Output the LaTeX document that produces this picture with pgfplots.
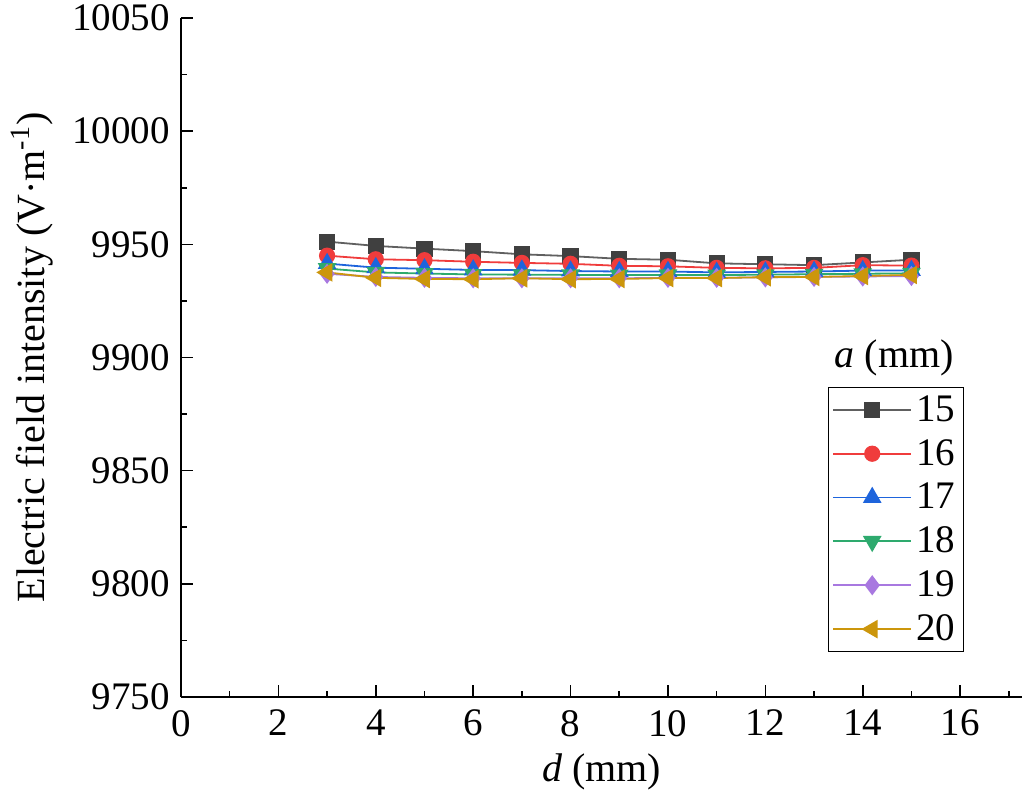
\documentclass[border=0pt]{standalone}
\usepackage{fontspec}
\setmainfont{Liberation Serif}
\usepackage{pgfplots}
\pgfplotsset{compat=1.18}
\definecolor{c15}{HTML}{404040}
\definecolor{c15l}{HTML}{606060}
\definecolor{c16}{HTML}{F03C3C}
\definecolor{c17}{HTML}{1E64DC}
\definecolor{c18}{HTML}{2EAA6E}
\definecolor{c19}{HTML}{A878E0}
\definecolor{c20}{HTML}{CC960C}
\begin{document}
\begin{tikzpicture}
\path[use as bounding box] (-90.5pt,-51pt) rectangle (424pt,348.5pt);
\begin{axis}[
  scale only axis, width=420.5pt, height=339.5pt,
  at={(0,0)}, anchor=south west,
  xmin=0, xmax=17.27, ymin=9750, ymax=10050,
  axis x line*=bottom, axis y line*=left,
  axis line style={line width=1pt, -},
  xtick={0,2,...,16}, minor xtick={1,3,...,17},
  ytick={9750,9800,...,10050}, minor ytick={9775,9825,...,10025},
  scaled y ticks=false, scaled x ticks=false,
  yticklabel={\pgfmathprintnumber[fixed,precision=0,1000 sep={}]{\tick}},
  tick align=inside,
  major tick length=6pt, minor tick length=3pt,
  every tick/.style={black, line width=0.8pt},
  /pgf/number format/assume math mode=true,
  /pgf/number format/1000 sep={},
  tick label style={font=\fontsize{19.5}{22}\selectfont},
  label style={font=\fontsize{20}{22}\selectfont},
  xlabel={\textit{d} (mm)},
  ylabel={Electric field intensity (V·m\textsuperscript{-1})},
  xticklabel style={yshift=-3pt},
  yticklabel style={xshift=-2pt},
  xlabel style={yshift=-2pt},
  ylabel style={yshift=3pt},
  legend style={at={(rel axis cs:0.769,0.4566)}, anchor=north west,
    draw=black, line width=0.6pt, font=\fontsize{19.5}{22}\selectfont,
    row sep=3.5pt, inner sep=2pt,
    /tikz/every even column/.append style={column sep=2pt}},
  legend cell align=left,
  legend image code/.code={\draw[mark repeat=2,mark phase=2,#1,line width=0.9pt] plot coordinates {(0pt,0pt) (19.5pt,0pt) (39pt,0pt)};},
  every axis plot/.append style={line width=0.9pt, mark size=3.6pt},
]
\addplot[color=c15l, draw=c15l, mark=square*, mark options={fill=c15, draw=c15}] coordinates {
(3,9951.2) (4,9949.3) (5,9948.1) (6,9947) (7,9945.6) (8,9944.8) (9,9943.6) (10,9943.2) (11,9941.6) (12,9941.2) (13,9940.8) (14,9942) (15,9943.2)};
\addlegendentry{15}
\addplot[color=c16, draw=c16, mark=*, mark options={fill=c16, draw=c16}] coordinates {
(3,9945) (4,9943.4) (5,9943) (6,9942.3) (7,9941.8) (8,9941.4) (9,9940.5) (10,9940.3) (11,9939.6) (12,9939.4) (13,9939.6) (14,9940.8) (15,9940.6)};
\addlegendentry{16}
\addplot[color=c17, draw=c17, mark=triangle*, mark options={fill=c17, draw=c17, scale=1.25}] coordinates {
(3,9941.5) (4,9939.7) (5,9939.2) (6,9938.7) (7,9938.6) (8,9938.2) (9,9938) (10,9938) (11,9937.6) (12,9937.8) (13,9938) (14,9938.4) (15,9938.5)};
\addlegendentry{17}
\addplot[color=c18, draw=c18, mark=triangle*, mark options={fill=c18, draw=c18, rotate=180, scale=1.25}] coordinates {
(3,9939.3) (4,9937.6) (5,9937.1) (6,9936.7) (7,9936.6) (8,9936.5) (9,9936.4) (10,9936.5) (11,9936.4) (12,9936.6) (13,9936.8) (14,9937) (15,9937.2)};
\addlegendentry{18}
\addplot[color=c19, draw=c19, mark=diamond*, mark options={fill=c19, draw=c19, scale=1.2}] coordinates {
(3,9937) (4,9935.6) (5,9935.2) (6,9935) (7,9935) (8,9935) (9,9935) (10,9935.2) (11,9935.2) (12,9935.4) (13,9935.6) (14,9935.8) (15,9936)};
\addlegendentry{19}
\addplot[color=c20, draw=c20, mark=triangle*, mark options={fill=c20, draw=c20, rotate=90, scale=1.25}] coordinates {
(3,9937.6) (4,9935.2) (5,9934.7) (6,9934.6) (7,9935) (8,9934.6) (9,9934.7) (10,9935.1) (11,9935.1) (12,9935.5) (13,9935.6) (14,9936) (15,9936.5)};
\addlegendentry{20}
\node[font=\fontsize{20}{22}\selectfont, anchor=south] at (rel axis cs:0.848,0.462) {\textit{a} (mm)};
\end{axis}
\end{tikzpicture}
\end{document}
